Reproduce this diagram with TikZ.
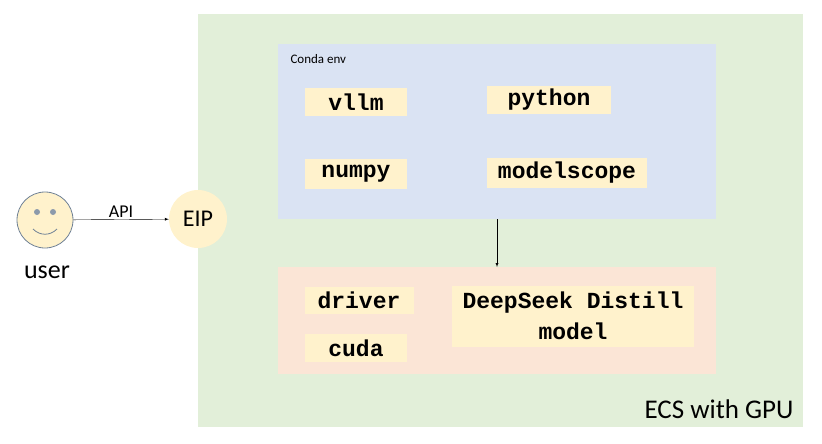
\documentclass[tikz,border=0pt]{standalone}
\usepackage{fontspec}
\setmainfont{Carlito}
\newfontfamily\codefont{Liberation Mono}
\usetikzlibrary{positioning}
\definecolor{ecsgreen}{HTML}{E2EFD9}
\definecolor{condablue}{HTML}{DAE3F3}
\definecolor{hwpeach}{HTML}{FBE5D6}
\definecolor{pkgyellow}{HTML}{FFF2CC}
\definecolor{faceline}{HTML}{6F8196}
\begin{document}
\begin{tikzpicture}[x=1pt,y=-1pt,
  pkg/.style={fill=pkgyellow,inner sep=0pt,font=\codefont\bfseries\fontsize{23}{25}\selectfont},
  area/.style={inner sep=0pt,anchor=north west}]
\useasboundingbox (0,0) rectangle (822,444);
% containers
\node[area,fill=ecsgreen,minimum width=605pt,minimum height=413pt] (ecs) at (198,14) {};
\node[anchor=south east,font=\fontsize{27}{29}\selectfont] (ecslabel) at (797,422) {ECS with GPU};
\node[area,fill=condablue,minimum width=438pt,minimum height=175pt] (conda) at (278,44) {};
\node[anchor=west,font=\fontsize{13}{15}\selectfont] (condalabel) at (287,59) {Conda env};
\node[area,fill=hwpeach,minimum width=438pt,minimum height=107pt] (hw) at (278,267) {};
% packages
\node[pkg,minimum width=102pt,minimum height=28pt] (vllm) at (356,102) {vllm};
\node[pkg,minimum width=124pt,minimum height=27pt] (python) at (549,100) {python};
\node[pkg,minimum width=102pt,minimum height=30pt] (numpy) at (356,174) {numpy};
\node[pkg,minimum width=160pt,minimum height=30pt] (modelscope) at (567,173) {modelscope};
\node[pkg,minimum width=109pt,minimum height=27pt] (driver) at (359,300) {driver};
\node[pkg,minimum width=102pt,minimum height=28pt] (cuda) at (356,348) {cuda};
\node[pkg,minimum width=242pt,minimum height=61pt,align=center] (model) at (573,316) {DeepSeek Distill\\[6pt]model};
\draw[-latex] (497,219) -- (497,267);
% user
\node[circle,draw=faceline,thick,fill=pkgyellow,minimum size=56pt,inner sep=0pt] (user) at (45,220) {};
\fill[faceline!80] (37,212) circle (3pt) (53,212) circle (3pt);
\draw[faceline,thick] (33,229) .. controls (40,236) and (50,236) .. (57,229);
\node[font=\fontsize{26}{28}\selectfont] (userlabel) at (47,272) {user};
\node[circle,fill=pkgyellow,minimum size=58pt,inner sep=0pt,font=\fontsize{24}{26}\selectfont] (eip) at (198,219) {EIP};
\draw[-latex] (user) -- node[above,font=\fontsize{18}{20}\selectfont,inner sep=2pt] (api) {API} (eip);
\end{tikzpicture}
\end{document}
